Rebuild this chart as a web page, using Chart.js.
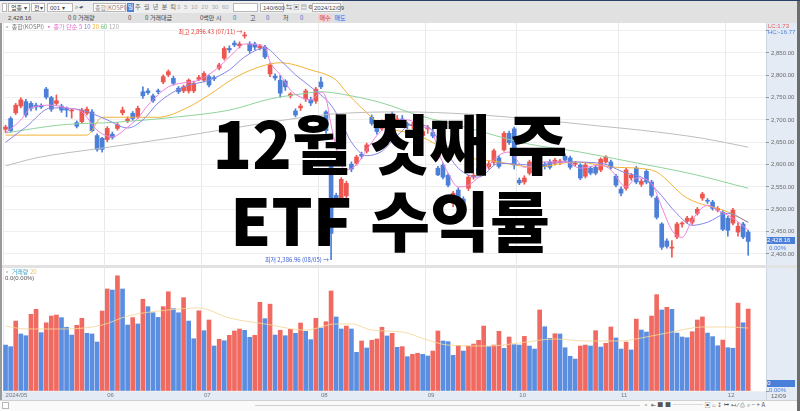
<!DOCTYPE html>
<html lang="ko">
<head>
<meta charset="utf-8">
<title>12월 첫째 주 ETF 수익률</title>
<script src="https://cdn.jsdelivr.net/npm/chart.js@4.4.1/dist/chart.umd.min.js"></script>
<style>
  html, body { margin: 0; padding: 0; background: #fff; }
  #wrap { position: relative; width: 800px; height: 411px; overflow: hidden; background: #fff;
          font-family: "Noto Sans CJK KR", "Liberation Sans", sans-serif; }
  .a { position: absolute; white-space: nowrap; }
  .t { font-size: 6px; line-height: 8px; color: #444; }
  .box { background: #fff; border: 1px solid #b8b8b8; box-sizing: border-box; height: 9px; }
  .num { font-family: "Liberation Sans", sans-serif; }
  .title { position: absolute; left: -10px; width: 800px; text-align: center; color: #000;
           font-family: "Noto Sans CJK KR", sans-serif; font-weight: 900; font-size: 65px; line-height: 66px; }
</style>
</head>
<body>
<div id="wrap">
  <!-- toolbar -->
  <div class="a" style="left:0;top:0;width:800px;height:1px;background:#2c3f66"></div>
  <div class="a" style="left:0;top:1px;width:800px;height:22px;background:#e1e1e1"></div>
  <div class="a" style="left:0;top:1px;width:342px;height:12px;background:#efefef"></div>
  <div class="a box" style="left:2px;top:3px;width:5px"></div>
  <div class="a box t" style="left:8px;top:3px;width:22px;padding-left:2px">업종 ▾</div>
  <div class="a box t" style="left:31px;top:3px;width:14px;padding-left:2px">전▾</div>
  <div class="a box t num" style="left:47px;top:3px;width:26px;padding-left:2px">001 ▾</div>
  <div class="a t" style="left:75px;top:3px">⌕ ◂▸</div>
  <div class="a box t" style="left:93px;top:3px;width:33px;padding-left:1px;color:#888">종합(KOSPI)</div>
  <div class="a t" style="left:127px;top:3px;width:7px;height:9px;background:#4a7fd9;color:#fff;text-align:center">일</div>
  <div class="a t" style="left:135px;top:3px;color:#666">주&nbsp; 월&nbsp; 년&nbsp; 분&nbsp; 틱</div>
  <div class="a t num" style="left:170px;top:3px;color:#aaa;word-spacing:2px">1 3 5 10 20 30 60 120</div>
  <div class="a box" style="left:233px;top:3px;width:25px"></div>
  <div class="a box t num" style="left:260px;top:3px;width:24px;padding-left:2px">140/600</div>
  <div class="a t" style="left:286px;top:3px;color:#666">⇆ ▣ ▤ ⚙</div>
  <div class="a box t num" style="left:312px;top:3px;width:29px;padding-left:1px">2024/12/09</div>

  <div class="a t num" style="left:8px;top:14px">2,428.16</div>
  <div class="a t" style="left:68px;top:14px">0</div>
  <div class="a t" style="left:73px;top:14px">0 거래량</div>
  <div class="a t" style="left:128px;top:14px">0</div>
  <div class="a t" style="left:145px;top:14px">0 거래대금</div>
  <div class="a t" style="left:200px;top:14px">0백만 시</div>
  <div class="a t" style="left:233px;top:14px;color:#3d6fd0">0</div>
  <div class="a t" style="left:250px;top:14px">고</div>
  <div class="a t" style="left:266px;top:14px;color:#3d6fd0">0</div>
  <div class="a t" style="left:283px;top:14px">저</div>
  <div class="a t" style="left:300px;top:14px;color:#3d6fd0">0</div>
  <div class="a t" style="left:318px;top:14px;width:14px;height:8px;background:#f3d2d2;color:#c33;text-align:center">매수</div>
  <div class="a t" style="left:334px;top:14px;width:12px;height:8px;background:#d3def3;color:#36c;text-align:center">매도</div>

  <!-- frame & axis panels -->
  <div class="a" style="left:0;top:23px;width:2px;height:378px;background:#9a9a9a"></div>
  <div class="a" style="left:797px;top:1px;width:3px;height:410px;background:#6d6d6d"></div>
  <div class="a" style="left:766px;top:23px;width:31px;height:377px;background:#e4ebf4;border-left:1px solid #cdd6e2;box-sizing:border-box"></div>
  <div class="a" style="left:2px;top:391px;width:764px;height:9px;background:#e4ebf4"></div>
  <div class="a" style="left:2px;top:265px;width:795px;height:3px;background:#e2e2e2"></div>
  <div class="a" style="left:0;top:400px;width:797px;height:11px;background:#fafafa;border-top:1px solid #d0d0d0;box-sizing:border-box"></div>
  <div class="a box" style="left:2px;top:402px;width:7px;height:7px"></div>
  <div class="a" style="left:255px;top:405px;width:385px;height:1px;background:#cfcfcf"></div>
  <div class="a t" style="left:643px;top:401px;color:#555">▫ ⇤ ■ ■ ┈┈┈┈┈ ▣ ⌂ ↧ ↦ ↤ ⁄ ⎙ ⌕ − + A</div>

  <div class="a" style="left:3px;top:23px;width:794px;height:243px"><canvas id="price"></canvas></div>
  <div class="a" style="left:3px;top:268px;width:794px;height:132px"><canvas id="vol"></canvas></div>

  <!-- legends and badges -->
  <div class="a t" style="left:4px;top:23px;color:#777">▫ 종합(KOSPI) <span style="color:#e06fcf">▪ 종가 단순 5</span> <span style="color:#7c7ce0">10</span> <span style="color:#f0b236">20</span> <span style="color:#6cc27e">60</span> <span style="color:#aaa">120</span></div>
  <div class="a t num" style="left:768px;top:22px;color:#e0605a">LC:1.73</div>
  <div class="a t num" style="left:768px;top:28px;color:#4a7fd9">HC:-16.77</div>
  <div class="a t num" style="left:767px;top:237px;width:28px;height:7px;line-height:7px;background:#4a7fd9;color:#fff">2,428.16</div>
  <div class="a t num" style="left:769px;top:244px;color:#4a7fd9">0.00%</div>
  <div class="a t" style="left:4px;top:268px;color:#888">▫ <span style="color:#3c9fc4">거래량</span> <span style="color:#e5c36a">20</span></div>
  <div class="a t num" style="left:5px;top:274px;color:#555">0.0(0.00%)</div>
  <div class="a t num" style="left:767px;top:380px;width:28px;height:7px;line-height:7px;background:#4a7fd9;color:#fff">0</div>
  <div class="a t num" style="left:769px;top:386px;color:#4a7fd9">0.00%</div>
  <div class="a t num" style="left:771px;top:392px;color:#666">12/09</div>

  <div class="title" style="top:108px">12월 첫째 주</div>
  <div class="title" style="top:185px">ETF 수익률</div>
</div>

<script>
// KOSPI daily candles, 2024/05/02 .. 2024/12/06: [open, high, low, close]
const ohlc = [
  [2679,2688,2672,2684],[2703,2707,2672,2676],[2716,2737,2712,2733],[2731,2750,2727,2745],[2741,2746,2706,2711],
  [2737,2741,2720,2726],[2733,2738,2722,2729],[2732,2736,2726,2729],[2769,2773,2747,2751],[2750,2753,2719,2724],
  [2737,2756,2733,2743],[2731,2735,2717,2722],[2726,2729,2707,2722],[2720,2725,2704,2722],[2694,2698,2682,2686],
  [2696,2726,2692,2722],[2715,2729,2711,2724],[2718,2723,2673,2676],[2665,2669,2630,2634],[2659,2661,2628,2634],
  [2656,2685,2651,2681],[2668,2673,2657,2661],[2681,2694,2677,2689],[2716,2729,2711,2722],[2698,2707,2694,2702],
  [2715,2719,2699,2703],[2707,2731,2703,2726],[2763,2774,2748,2754],[2765,2770,2757,2761],[2754,2758,2739,2743],
  [2765,2769,2759,2763],[2785,2801,2781,2797],[2801,2812,2797,2808],[2793,2798,2778,2782],[2771,2775,2759,2763],
  [2765,2778,2761,2774],[2765,2792,2760,2789],[2765,2787,2761,2782],[2791,2800,2788,2795],[2789,2808,2785,2804],
  [2797,2801,2774,2778],[2795,2799,2788,2792],[2816,2827,2812,2823],[2838,2864,2834,2860],[2860,2866,2851,2857],
  [2872,2877,2864,2868],[2866,2875,2861,2870],[2888,2896.43,2883,2890],[2870,2875,2850,2855],[2870,2874,2857,2863],
  [2861,2869,2857,2866],[2863,2867,2837,2841],[2803,2827,2797,2823],[2798,2803,2789,2794],[2789,2800,2751,2760],
  [2787,2790,2766,2774],[2754,2761,2749,2758],[2720,2725,2707,2711],[2727,2736,2721,2731],[2747,2769,2741,2765],
  [2745,2751,2732,2738],[2742,2773,2737,2769],[2785,2796,2770,2774],[2718,2721,2670,2676],[2603,2610,2386.96,2446],
  [2531,2536,2508,2520],[2516,2571,2511,2567],[2530,2563,2524,2558],[2601,2606,2584,2590],[2603,2621,2599,2617],
  [2623,2628,2614,2619],[2630,2648,2626,2644],[2706,2711,2688,2692],[2690,2695,2668,2674],[2680,2700,2676,2696],
  [2690,2705,2682,2701],[2712,2718,2700,2708],[2700,2710,2695,2701],[2702,2710,2690,2698],[2690,2695,2680,2689],
  [2687,2695,2680,2689],[2675,2680,2655,2662],[2665,2678,2660,2674],[2680,2688,2670,2681],[2672,2680,2660,2664],
  [2592,2596,2575,2577],[2599,2604,2568,2572],[2576,2580,2550,2554],[2513,2540,2506,2536],[2543,2548,2512,2516],
  [2523,2528,2505,2509],[2547,2576,2542,2572],[2572,2580,2567,2576],[2592,2597,2578,2581],[2585,2598,2580,2593],
  [2595,2608,2590,2602],[2605,2635,2600,2631],[2615,2620,2592,2596],[2633,2674,2630,2670],[2670,2675,2645,2649],
  [2680,2684,2590,2599],[2565,2570,2555,2559],[2561,2575,2556,2570],[2581,2610,2577,2606],[2590,2598,2585,2594],
  [2608,2613,2595,2599],[2600,2606,2590,2596],[2606,2611,2590,2594],[2603,2614,2599,2610],[2605,2612,2600,2608],
  [2619,2624,2606,2610],[2615,2619,2590,2594],[2601,2607,2596,2603],[2599,2602,2566,2570],[2574,2603,2570,2599],
  [2592,2596,2577,2581],[2594,2598,2577,2581],[2588,2615,2584,2612],[2606,2620,2603,2617],[2606,2610,2590,2594],
  [2574,2578,2550,2554],[2545,2550,2530,2536],[2547,2592,2543,2588],[2570,2580,2565,2576],[2592,2596,2557,2561],
  [2556,2567,2551,2563],[2585,2589,2557,2561],[2561,2565,2527,2531],[2525,2529,2478,2482],[2467,2470,2410,2415],
  [2429,2434,2413,2417],[2413,2430,2393,2415],[2438,2471,2434,2467],[2467,2472,2460,2469],[2473,2484,2469,2480],
  [2471,2485,2466,2480],[2491,2504,2487,2500],[2525,2538,2520,2534],[2520,2524,2513,2518],[2516,2520,2498,2502],
  [2498,2506,2494,2502],[2493,2497,2452,2455],[2480,2484,2440,2453],[2469,2502,2465,2498],[2449,2470,2440,2462],
  [2467,2471,2434,2438],[2449,2453,2397,2428]
];

// volume, thousands of shares
const volK = [
  348,336,530,432,419,581,619,442,517,568, 576,556,483,424,498,551,437,432,371,606,
  773,765,873,773,500,556,508,695,639,593, 558,639,752,624,593,707,530,396,608,457,
  538,341,392,381,422,455,470,460,407,422, 672,548,658,424,460,419,467,437,515,452,
  389,551,477,525,758,561,470,492,470,293, 379,326,384,394,483,417,437,331,336,260,
  278,286,278,265,303,455,379,374,270,346, 303,341,356,384,492,336,348,452,323,409,
  351,348,414,341,318,614,487,399,434,432, 328,263,242,341,348,341,457,333,361,485,
  402,318,371,311,545,462,447,568,730,614, 634,619,439,409,404,449,538,561,439,412,
  343,386,328,324,666,517,621
];

// moving averages: [bar index, value]
const ma5 = [[0,2670],[3,2700],[5,2727],[9,2733],[12,2727],[15,2718],[18,2677],[21,2662],[24,2684],[26,2704],
  [28,2733],[32,2774],[35,2783],[38,2789],[42,2819],[45,2852],[47,2870],[51,2863],[52,2830],[54,2801],[56,2767],
  [58,2751],[60,2745],[62,2762],[63,2749],[64,2689],[66,2600],[67,2588],[69,2600],[71,2633],[73,2665],[76,2695],
  [79,2700],[82,2685],[84,2672],[85,2632],[87,2581],[89,2550],[91,2554],[93,2572],[97,2621],[99,2628],[102,2594],
  [106,2606],[110,2606],[113,2592],[117,2599],[119,2588],[122,2550],[124,2570],[127,2558],[129,2505],[131,2453],
  [133,2437],[135,2476],[138,2509],[140,2498],[143,2480],[146,2453]];
const ma10 = [[0,2650],[4,2684],[9,2727],[15,2722],[20,2700],[24,2682],[27,2700],[30,2738],[35,2774],[40,2789],
  [44,2812],[47,2841],[51,2861],[54,2834],[57,2801],[60,2774],[64,2733],[66,2695],[68,2650],[71,2620],[74,2630],
  [77,2665],[80,2690],[83,2685],[86,2640],[89,2592],[93,2572],[97,2603],[104,2599],[110,2606],[117,2603],[122,2581],
  [125,2572],[128,2543],[132,2490],[135,2464],[138,2471],[142,2491],[146,2471]];
const ma20 = [[0,2666],[16,2666],[19,2706],[30,2706],[36,2729],[40,2756],[45,2794],[50,2819],[54,2828],[60,2812],
  [65,2789],[67,2762],[70,2727],[74,2688],[81,2666],[89,2621],[97,2606],[104,2594],[112,2606],[120,2594],[127,2588],
  [134,2525],[142,2494],[146,2471]];
const ma60 = [[0,2671],[11,2689],[22,2695],[34,2707],[44,2722],[52,2747],[58,2758],[62,2763],[66,2758],[74,2738],
  [81,2711],[91,2682],[102,2648],[113,2628],[123,2606],[135,2579],[146,2547]];
const ma120 = [[0,2597],[6,2615],[19,2637],[34,2662],[52,2695],[64,2713],[78,2718],[91,2713],[105,2700],[117,2686],
  [125,2677],[137,2659],[146,2639]];
const volMa20K = [[0,492],[4,470],[12,470],[19,500],[24,568],[32,614],[38,629],[44,553],[51,508],[59,462],[65,508],
  [68,508],[72,462],[78,447],[83,386],[87,348],[95,341],[101,364],[108,394],[114,379],[121,379],[125,402],[131,447],
  [137,485],[142,485],[146,477]];

const monthStart = [0, 20, 39, 62, 83, 101, 121, 142];
const monthText = ['2024/05', '06', '07', '08', '09', '10', '11', '12'];

const SLOTS = 150;
const labels = Array.from({ length: SLOTS }, (_, i) => String(i));
const RED = '#ee5750', BLUE = '#4b7fd8';
const VRED = '#f06a62', VBLUE = '#5b8ee0';

const upBar = ohlc.map(d => d[3] >= d[0]);
const candleColor = upBar.map(u => (u ? RED : BLUE));
const volColor = volK.map((v, i) => (i > 0 && v > volK[i - 1] ? VRED : VBLUE));

const pts = arr => arr.map(([i, v]) => ({ x: String(i), y: v }));
const maLine = (arr, color) => ({
  type: 'line', data: pts(arr), borderColor: color, borderWidth: 1,
  pointRadius: 0, tension: 0.4, cubicInterpolationMode: 'monotone', fill: false
});
const monthGrid = ctx => (ctx.tick && monthStart.includes(ctx.tick.value) ? '#e9e9e9' : 'rgba(0,0,0,0)');
const noPadY = s => { s.width = 31; s.paddingTop = 0; s.paddingBottom = 0; };

// 최고/최저 markers
const extremes = {
  id: 'extremes',
  afterDatasetsDraw(chart) {
    const { ctx, scales: { x, y } } = chart;
    let hi = 0, lo = 0;
    ohlc.forEach((d, i) => { if (d[1] > ohlc[hi][1]) hi = i; if (d[2] < ohlc[lo][2]) lo = i; });
    ctx.save();
    ctx.font = '6px "Noto Sans CJK KR"';
    ctx.textAlign = 'right';
    ctx.textBaseline = 'middle';
    ctx.fillStyle = '#e2423b';
    ctx.fillText('최고 2,896.43 (07/11) →', x.getPixelForValue(hi) - 2, y.getPixelForValue(ohlc[hi][1]));
    ctx.fillStyle = '#3f62d8';
    ctx.fillText('최저 2,386.96 (08/05) →', x.getPixelForValue(lo) - 2, y.getPixelForValue(ohlc[lo][2]));
    ctx.restore();
  }
};

new Chart(document.getElementById('price'), {
  type: 'bar',
  data: {
    labels,
    datasets: [
      maLine(ma5, '#ee80dc'),
      maLine(ma10, '#8585e6'),
      maLine(ma20, '#f2b33a'),
      maLine(ma60, '#8fd39c'),
      maLine(ma120, '#bdbdbd'),
      { data: ohlc.map(d => [d[0], d[3]]), backgroundColor: candleColor, barThickness: 4, grouped: false, minBarLength: 1 },
      { data: ohlc.map(d => [d[2], d[1]]), backgroundColor: candleColor, barThickness: 1, grouped: false }
    ]
  },
  options: {
    responsive: true, maintainAspectRatio: false, animation: false, events: [],
    layout: { padding: 0 },
    plugins: { legend: { display: false }, tooltip: { enabled: false } },
    scales: {
      x: {
        ticks: { display: false, autoSkip: false },
        grid: { drawTicks: false, color: monthGrid },
        border: { display: false },
        afterFit: s => { s.height = 0; s.paddingLeft = 0; s.paddingRight = 0; }
      },
      y: {
        position: 'right', min: 2373, max: 2917,
        afterBuildTicks: s => { s.ticks = s.ticks.filter(t => t.value % 50 === 0); },
        ticks: {
          stepSize: 50, padding: 2, color: '#6b6b6b',
          font: { family: 'Liberation Sans', size: 6 },
          callback: v => (v >= 2900 ? '' : v.toLocaleString('en-US', { minimumFractionDigits: 2 }))
        },
        grid: { color: '#efefef', tickLength: 3, tickColor: '#9a9a9a' },
        border: { display: false },
        afterFit: noPadY
      }
    }
  },
  plugins: [extremes]
});

new Chart(document.getElementById('vol'), {
  type: 'bar',
  data: {
    labels,
    datasets: [
      maLine(volMa20K.map(([i, v]) => [i, v * 1000]), 'rgba(246,214,150,0.85)'),
      { data: volK.map(v => v * 1000), backgroundColor: volColor, barThickness: 4 }
    ]
  },
  options: {
    responsive: true, maintainAspectRatio: false, animation: false, events: [],
    layout: { padding: 0 },
    plugins: { legend: { display: false }, tooltip: { enabled: false } },
    scales: {
      x: {
        ticks: {
          autoSkip: false, maxRotation: 0, minRotation: 0, align: 'start', padding: 1,
          color: '#777', font: { family: 'Liberation Sans', size: 6 },
          callback: (v, i) => { const k = monthStart.indexOf(i); return k < 0 ? '' : monthText[k]; }
        },
        grid: { drawTicks: false, color: monthGrid },
        border: { display: false },
        afterFit: s => { s.height = 9; s.paddingLeft = 0; s.paddingRight = 0; }
      },
      y: {
        position: 'right', min: 0, max: 932000,
        afterBuildTicks: s => { s.ticks = s.ticks.filter(t => t.value % 100000 === 0); },
        ticks: {
          stepSize: 100000, padding: 2, color: '#6b6b6b',
          font: { family: 'Liberation Sans', size: 6 },
          callback: v => (v === 0 ? '' : v.toLocaleString('en-US'))
        },
        grid: { color: '#efefef', tickLength: 3, tickColor: '#9a9a9a' },
        border: { display: false },
        afterFit: noPadY
      }
    }
  }
});
</script>
</body>
</html>
